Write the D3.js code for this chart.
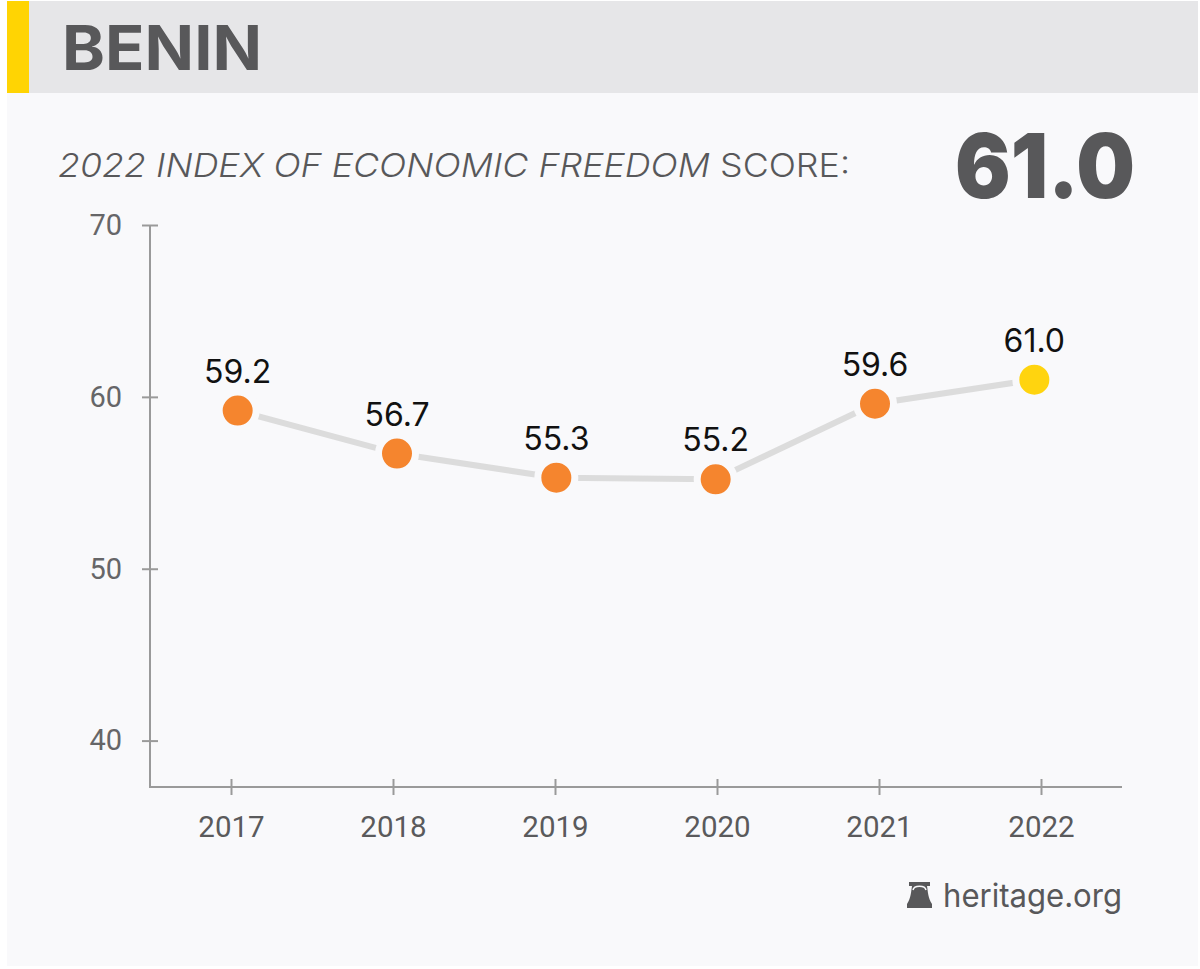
<!DOCTYPE html>
<html>
<head>
<meta charset="utf-8">
<script src="https://cdn.jsdelivr.net/npm/d3@7"></script>
<style>
  body { margin: 0; background: #ffffff; }
  svg { display: block; }
</style>
</head>
<body>
<div id="wrapper"></div>
<script>
// chart data
const years = ['2017', '2018', '2019', '2020', '2021', '2022']
const scores = [59.2, 56.7, 55.3, 55.2, 59.6, 61.0]
const yTicks = [40, 50, 60, 70]
const country = 'BENIN'
const currentScore = '61.0'

function drawChart() {
  const dimensions = {
    width: 1200,
    height: 969,
    axisLeft: 150,
    axisRight: 1122,
    axisTop: 225,
    axisBottom: 787,
  }

  const textColor = '#58585a'
  const axisColor = '#9a9a9a'

  const svg = d3
    .select('#wrapper')
    .append('svg')
    .attr('width', dimensions.width)
    .attr('height', dimensions.height)

  // panel + header band
  svg.append('rect')
    .attr('x', 7).attr('y', 1)
    .attr('width', 1191).attr('height', 965)
    .attr('fill', '#f9f9fb')
  svg.append('rect')
    .attr('x', 29).attr('y', 1)
    .attr('width', 1169).attr('height', 92)
    .attr('fill', '#e6e6e8')
  svg.append('rect')
    .attr('x', 7).attr('y', 1)
    .attr('width', 22).attr('height', 92)
    .attr('fill', '#ffd403')

  svg.append('text')
    .attr('x', 62).attr('y', 70)
    .attr('font-family', 'Inter, "Noto Sans", sans-serif')
    .attr('font-weight', 700)
    .attr('font-size', 62)
    .attr('textLength', 200)
    .attr('lengthAdjust', 'spacingAndGlyphs')
    .attr('fill', textColor)
    .text(country)

  // subtitle
  const sub = svg.append('text')
    .attr('x', 58).attr('y', 177)
    .attr('font-family', 'Inter, "Noto Sans", sans-serif')
    .attr('font-weight', 300)
    .attr('font-size', 33)
    .attr('textLength', 792)
    .attr('lengthAdjust', 'spacingAndGlyphs')
    .attr('fill', textColor)
  sub.append('tspan')
    .attr('font-style', 'italic')
    .text('2022 INDEX OF ECONOMIC FREEDOM')
  sub.append('tspan').text(' SCORE:')

  svg.append('text')
    .attr('x', 1135).attr('y', 198)
    .attr('text-anchor', 'end')
    .attr('font-family', 'Inter, "Noto Sans", sans-serif')
    .attr('font-weight', 900)
    .attr('font-size', 90)
    .attr('textLength', 180)
    .attr('lengthAdjust', 'spacingAndGlyphs')
    .attr('fill', textColor)
    .text(currentScore)

  // scales
  const yScale = d3.scaleLinear()
    .domain([37.3, 70])
    .range([dimensions.axisBottom, dimensions.axisTop])

  const xScale = d3.scalePoint()
    .domain(years)
    .range([dimensions.axisLeft, dimensions.axisRight])
    .padding(0.5)

  // marks sit slightly inside the tick positions in the original
  const xMark = xScale.copy().range([158, 1114])

  // y axis
  const yAxis = svg.append('g')
    .attr('transform', `translate(${dimensions.axisLeft},0)`)
    .call(d3.axisLeft(yScale).tickValues(yTicks).tickSize(8).tickPadding(20))
  yAxis.select('.domain').remove()
  yAxis.selectAll('.tick line')
    .attr('x1', -8).attr('x2', 8)
    .attr('stroke', axisColor).attr('stroke-width', 2)
  yAxis.selectAll('.tick text')
    .attr('font-family', 'Roboto, sans-serif')
    .attr('font-size', 29)
    .attr('fill', '#666668')
  yAxis.append('line')
    .attr('y1', yScale(70)).attr('y2', yScale(37.3))
    .attr('stroke', axisColor).attr('stroke-width', 2)

  // x axis
  const xAxis = svg.append('g')
    .attr('transform', `translate(0,${dimensions.axisBottom})`)
    .call(d3.axisBottom(xScale).tickSize(8).tickPadding(21))
  xAxis.select('.domain').remove()
  xAxis.selectAll('.tick line')
    .attr('y1', -8).attr('y2', 8)
    .attr('stroke', axisColor).attr('stroke-width', 2)
  xAxis.selectAll('.tick text')
    .attr('font-family', 'Roboto, sans-serif')
    .attr('font-size', 29.5)
    .attr('fill', '#5a5a5c')
  xAxis.append('line')
    .attr('x1', dimensions.axisLeft - 1).attr('x2', dimensions.axisRight)
    .attr('stroke', axisColor).attr('stroke-width', 2)

  // line
  const points = years.map((y, i) => ({ year: y, score: scores[i] }))
  const lineGenerator = d3.line()
    .x((d) => xMark(d.year))
    .y((d) => yScale(d.score))

  svg.append('path')
    .datum(points)
    .attr('d', lineGenerator)
    .attr('fill', 'none')
    .attr('stroke', '#dcdcdc')
    .attr('stroke-width', 6)

  // dots with a halo in the background colour
  svg.append('g')
    .selectAll('circle')
    .data(points)
    .join('circle')
    .attr('cx', (d) => xMark(d.year))
    .attr('cy', (d) => yScale(d.score))
    .attr('r', 18.5)
    .attr('fill', (d, i) => (i === points.length - 1 ? '#ffd40f' : '#f5852e'))
    .attr('stroke', '#f9f9fb')
    .attr('stroke-width', 7)

  // value labels
  svg.append('g')
    .selectAll('text')
    .data(points)
    .join('text')
    .attr('x', (d) => xMark(d.year))
    .attr('y', (d) => yScale(d.score) - 28)
    .attr('text-anchor', 'middle')
    .attr('font-family', 'Inter, "Noto Sans", sans-serif')
    .attr('font-size', 32)
    .attr('fill', '#111111')
    .text((d) => d.score.toFixed(1))

  // footer logo
  const logo = svg.append('g').attr('transform', 'translate(907,882)')
  logo.append('path')
    .attr('d', 'M2,0 H23 V4 H20 C21,10 21,16 25,22 V26 H0 V22 C4,16 4,10 5,4 H2 Z')
    .attr('fill', textColor)
  logo.append('path')
    .attr('d', 'M6,8 C7,3 18,3 19,8')
    .attr('fill', 'none')
    .attr('stroke', '#f9f9fb')
    .attr('stroke-width', 1.5)

  svg.append('text')
    .attr('x', 943).attr('y', 907)
    .attr('font-family', 'Inter, "Noto Sans", sans-serif')
    .attr('font-size', 32)
    .attr('textLength', 179)
    .attr('lengthAdjust', 'spacingAndGlyphs')
    .attr('fill', textColor)
    .text('heritage.org')
}

drawChart()
</script>
</body>
</html>
